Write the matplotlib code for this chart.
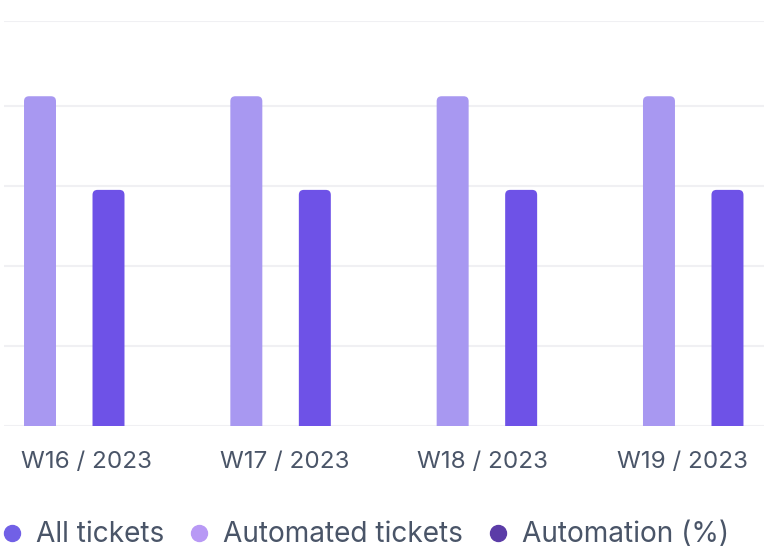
import matplotlib
matplotlib.use('Agg')

import numpy as np
import matplotlib.pyplot as plt
from matplotlib.patches import FancyBboxPatch
from matplotlib.lines import Line2D

# data (y grid step = 10)
weeks = ["W16 / 2023", "W17 / 2023", "W18 / 2023", "W19 / 2023"]
all_tickets = [41.2, 41.2, 41.2, 41.2]
automated_tickets = [29.5, 29.5, 29.5, 29.5]
legend_labels = ["All tickets", "Automated tickets", "Automation (%)"]

plt.rcParams['font.family'] = ['Inter', 'DejaVu Sans']

light = '#a898f1'
dark = '#6e52e7'
legend_colors = ['#7160e6', '#b899f5', '#5b3ca7']
text_col = '#4a5568'

fig = plt.figure(figsize=(7.68, 5.52), dpi=100)
ax = fig.add_axes([4 / 768, 126 / 552, 760 / 768, 405 / 552])

x = np.arange(len(weeks))
off = 0.166
w = 0.155
b1 = ax.bar(x - off, all_tickets, w, color=light, zorder=2)
b2 = ax.bar(x + off, automated_tickets, w, color=dark, zorder=2)

ax.set_xlim(-0.3405, 3.343)
ax.set_ylim(0, 50.6)

# swap the plain rectangles for ones with rounded tops
px_x = 1 / 206.3
px_y = 10 / 80
r = 5 * px_x
for bars in (b1, b2):
    for rect in bars:
        bx, by = rect.get_x(), rect.get_y()
        bw, bh = rect.get_width(), rect.get_height()
        patch = FancyBboxPatch((bx, by - 10 * px_y), bw, bh + 10 * px_y,
                               boxstyle="round,pad=0,rounding_size=%f" % r,
                               mutation_aspect=px_y / px_x,
                               fc=rect.get_facecolor(), ec='none', zorder=2)
        rect.set_visible(False)
        ax.add_patch(patch)

ax.set_yticks([0, 10, 20, 30, 40, 50.6])
ax.yaxis.grid(True, color='#f0f0f3', linewidth=1.5, zorder=0)
ax.tick_params(axis='y', left=False, labelleft=False)
for s in ax.spines.values():
    s.set_visible(False)

# labels sit a bit inward from the bar groups
ax.set_xticks([0.06, 1.02, 1.98, 2.946])
ax.set_xticklabels(weeks, fontsize=17.4, color=text_col)
ax.tick_params(axis='x', length=0, pad=18)

handles = [Line2D([], [], marker='o', ls='none', markersize=11.5,
                  markerfacecolor=c, markeredgecolor=c) for c in legend_colors]
fig.legend(handles, legend_labels, loc='center left', bbox_to_anchor=(1 / 768, 17 / 552),
           ncol=3, frameon=False, fontsize=20.2, labelcolor=text_col,
           borderpad=0, borderaxespad=0,
           handletextpad=0.45, columnspacing=0.85, handlelength=0.8)

plt.savefig("out.png", dpi=100)
